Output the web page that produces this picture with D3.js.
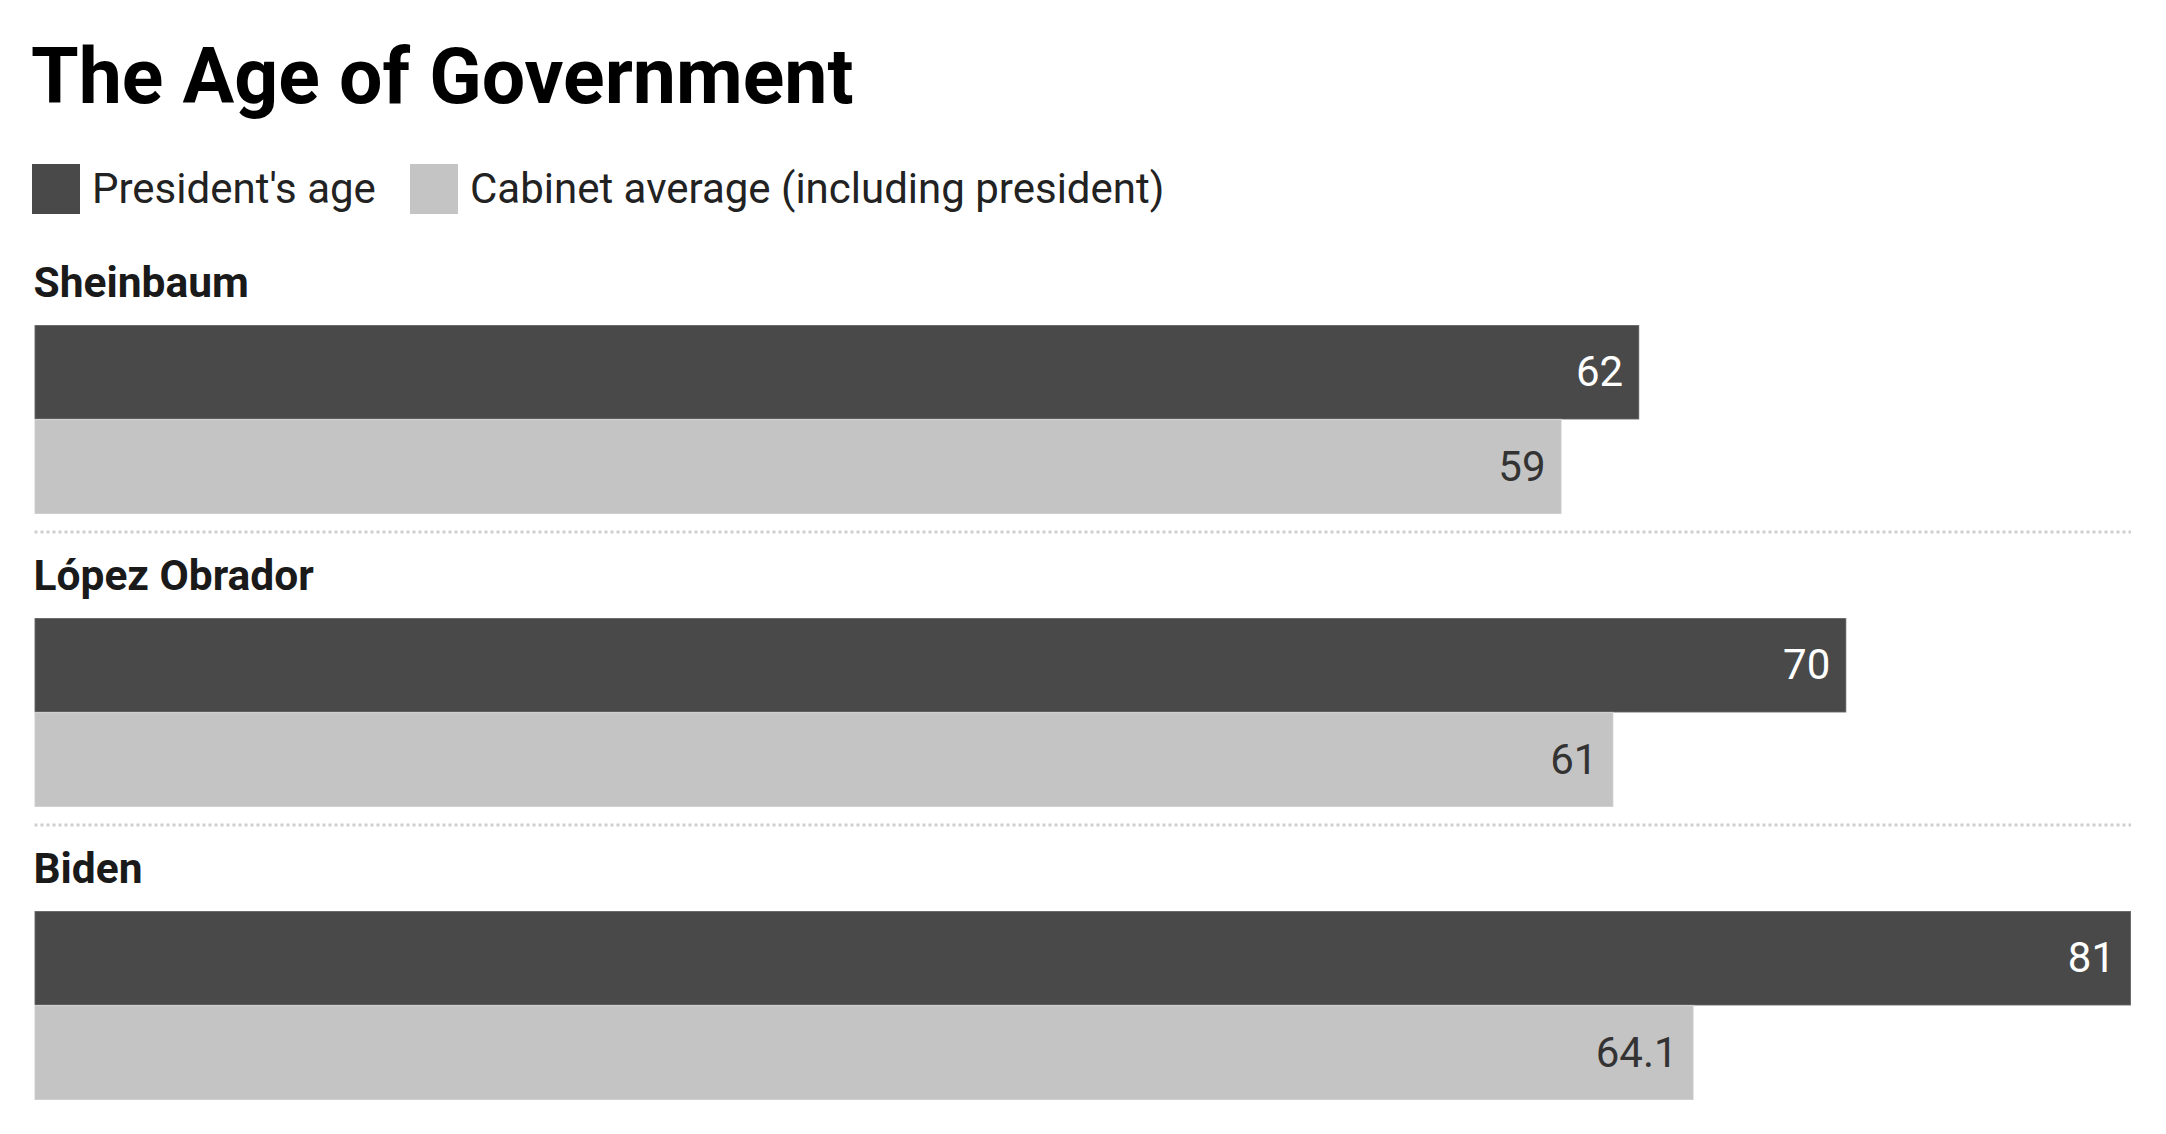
<!DOCTYPE html>
<html>
<head>
<meta charset="utf-8">
<script src="https://cdn.jsdelivr.net/npm/d3@7"></script>
<style>
  html, body { margin: 0; padding: 0; background: #fff; }
  svg { display: block; font-family: Roboto, "Noto Sans", sans-serif; }
</style>
</head>
<body>
<svg id="chart" width="2166" height="1134"></svg>
<script>
// names of the administrations, top to bottom
var leaders = ['Sheinbaum', 'López Obrador', 'Biden'];
var presidentAge = [62, 70, 81];
var cabinetAverage = [59, 61, 64.1];
var seriesNames = ["President's age", 'Cabinet average (including president)'];
var seriesColors = ['#494949', '#c4c4c4'];
var labelColors = ['#ffffff', '#333333'];

var svg = d3.select('#chart');
var width = +svg.attr('width');
var height = +svg.attr('height');
var margin = { left: 34.5, right: 35 };

var rows = leaders.map(function (name, i) {
  return { name: name, values: [presidentAge[i], cabinetAverage[i]] };
});

// title
svg.append('text')
    .attr('x', 31)
    .attr('y', 103)
    .attr('font-size', 77)
    .attr('font-weight', 700)
    .attr('fill', '#000')
    .text('The Age of Government');

// legend
var legendX = [32, 410];
var legend = svg.append('g').selectAll('g')
  .data(seriesNames)
  .enter().append('g')
    .attr('transform', function (d, i) { return `translate(${legendX[i]},164)`; });
legend.append('rect')
    .attr('width', 48)
    .attr('height', 50)
    .attr('fill', function (d, i) { return seriesColors[i]; });
legend.append('text')
    .attr('x', 60)
    .attr('y', 39)
    .attr('font-size', 42)
    .attr('fill', '#222')
    .text(function (d) { return d; });

var xScale = d3.scaleLinear()
  .domain([0, d3.max(presidentAge)])
  .range([margin.left, width - margin.right]);

var groupY = d3.scaleBand()
  .domain(leaders)
  .range([239, 1118]);

var barY = d3.scaleBand()
  .domain([0, 1])
  .range([86, 275]);

var groups = svg.append('g').selectAll('g')
  .data(rows)
  .enter().append('g')
    .attr('transform', function (d) { return `translate(0,${groupY(d.name)})`; });

// dotted separator above every group but the first
groups.filter(function (d, i) { return i > 0; })
  .append('line')
    .attr('x1', margin.left)
    .attr('x2', width - margin.right)
    .attr('y1', 0)
    .attr('y2', 0)
    .attr('stroke', '#cfcfcf')
    .attr('stroke-width', 3)
    .attr('stroke-dasharray', '3,3');

groups.append('text')
    .attr('x', margin.left - 1)
    .attr('y', 58)
    .attr('font-size', 42.5)
    .attr('font-weight', 700)
    .attr('fill', '#1a1a1a')
    .text(function (d) { return d.name; });

var bars = groups.selectAll('g.bar')
  .data(function (d) { return d.values; })
  .enter().append('g')
    .attr('class', 'bar');

bars.append('rect')
    .attr('x', xScale(0))
    .attr('y', function (d, i) { return barY(i); })
    .attr('width', function (d) { return xScale(d) - xScale(0); })
    .attr('height', barY.bandwidth())
    .attr('fill', function (d, i) { return seriesColors[i]; })
    .attr('stroke', 'rgba(255,255,255,0.25)')
    .attr('stroke-width', 1.5);

bars.append('text')
    .attr('x', function (d) { return xScale(d) - 16; })
    .attr('y', function (d, i) { return barY(i) + barY.bandwidth() / 2; })
    .attr('dy', '0.33em')
    .attr('text-anchor', 'end')
    .attr('font-size', 42)
    .attr('fill', function (d, i) { return labelColors[i]; })
    .text(function (d) { return d; });
</script>
</body>
</html>
